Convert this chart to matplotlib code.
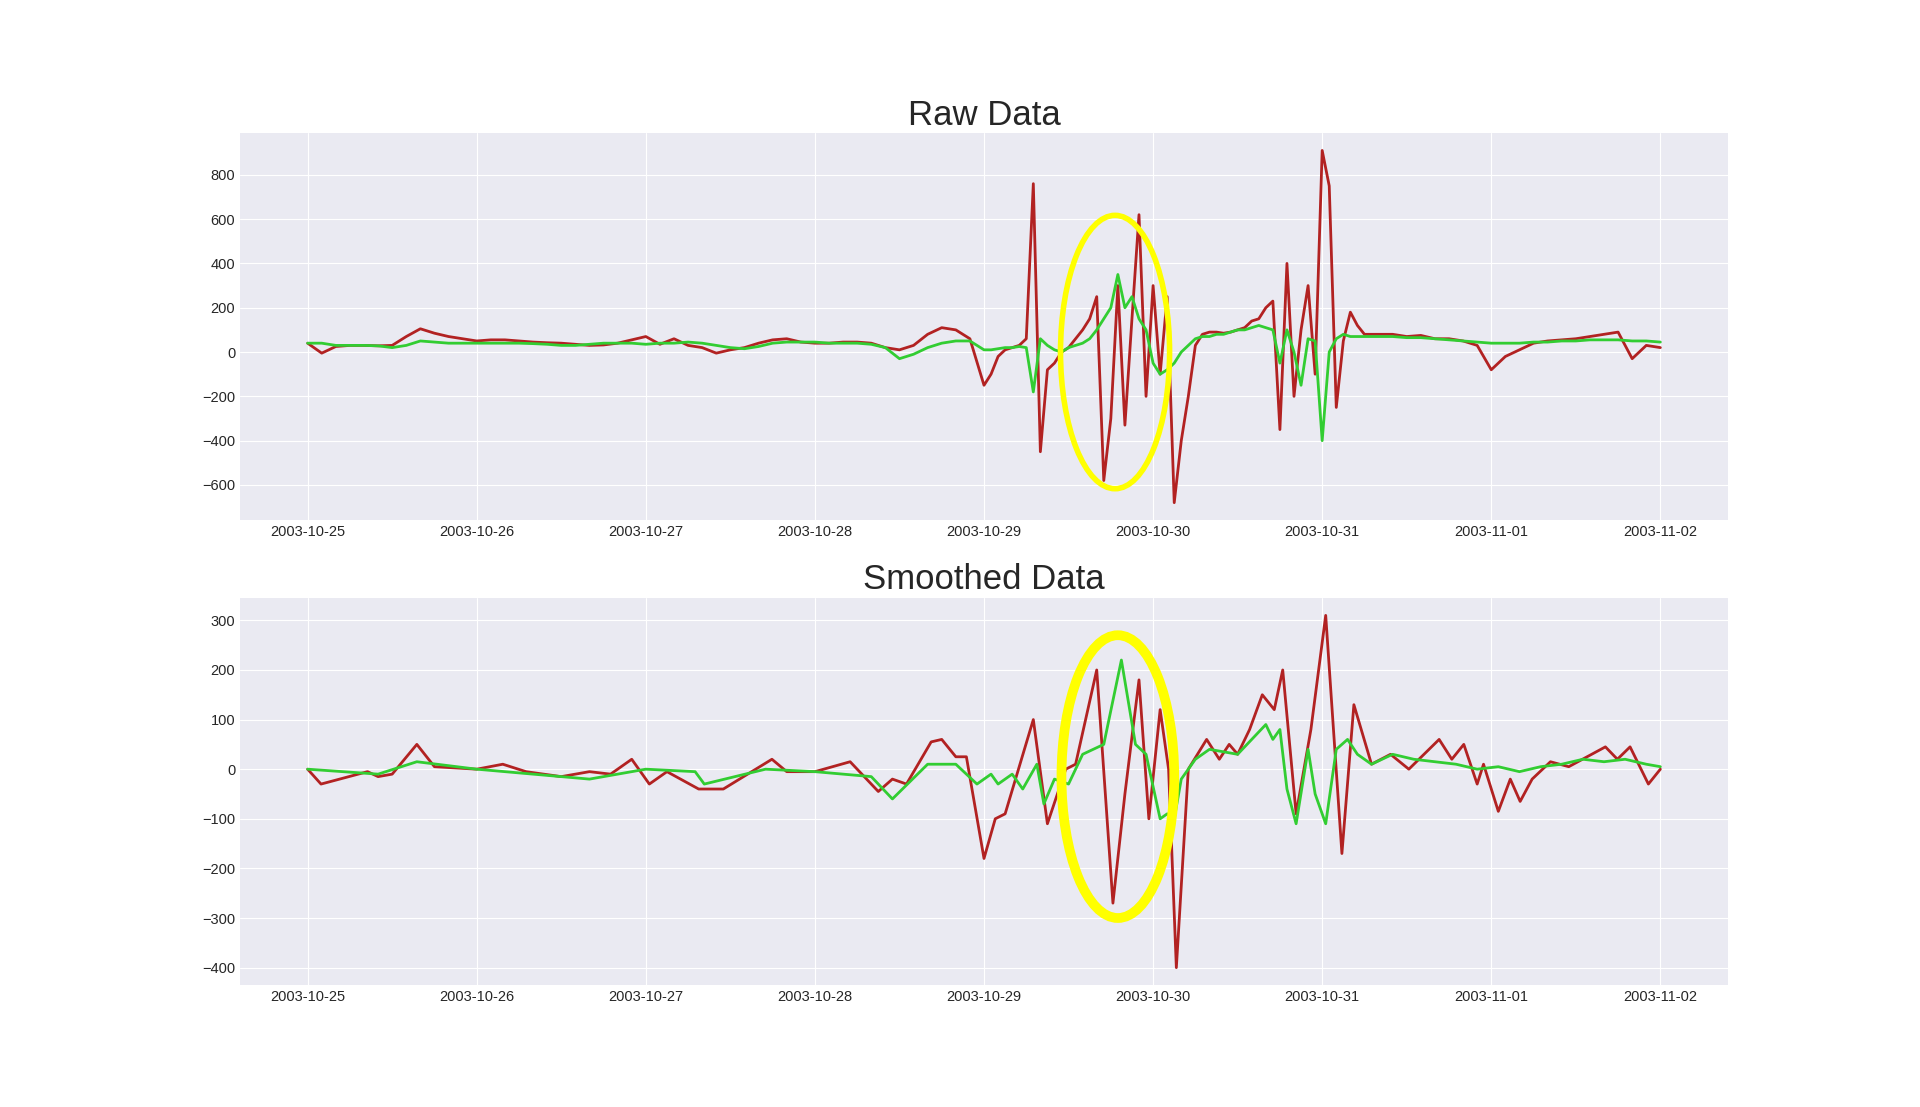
import numpy as np
import matplotlib
matplotlib.use("Agg")
import matplotlib.pyplot as plt
import matplotlib.dates as mdates
from matplotlib.patches import Ellipse

plt.style.use("seaborn-v0_8-darkgrid")

start = np.datetime64("2003-10-25T00:00")
raw_hours = np.concatenate([np.arange(0, 96, 2), np.arange(96, 151, 1), np.arange(152, 193, 2)])

raw_red = [40,-5,25,30,30,28,30,70,105,85,70,60,
           50,55,55,50,45,42,40,35,30,32,40,55,
           70,35,60,30,20,-5,10,20,40,55,60,45,
           40,40,45,45,40,20,10,30,80,110,100,60,
           -150,-100,-20,10,20,30,60,760,-450,-80,-50,0,20,60,100,150,250,-580,-300,300,-330,150,
           620,-200,300,-100,250,-680,-400,-200,30,80,90,90,85,90,100,110,140,150,200,230,-350,400,
           -200,100,300,-100,910,750,-250,50,180,120,80,
           80,80,70,75,60,60,50,30,-80,-20,10,40,50,55,60,70,80,90,-30,30,20]
raw_green = [40,40,30,30,30,28,20,30,50,45,40,40,
             40,40,40,40,38,35,30,30,35,40,40,40,
             35,40,40,45,40,30,20,15,25,40,45,45,
             45,40,40,40,35,20,-30,-10,20,40,50,50,
             10,10,15,20,20,25,20,-180,60,30,10,0,20,30,40,60,100,150,200,350,200,250,150,100,
             -50,-100,-80,-50,0,30,60,70,70,80,80,90,100,100,110,120,110,100,-50,100,0,-150,60,50,
             -400,0,60,80,70,70,70,
             70,70,65,65,60,55,50,45,40,40,40,45,45,50,50,55,55,55,50,50,45]

sm_red_hours = [0,1.9,8.5,10,12,15.5,18,24,27.7,31,36,40,43,46,48.5,51,55.5,59,65.9,68,72,77,81,83,85,88.5,90,92,93.5,96,
                97.6,99,103,105,107.6,109,112,114.3,116,118,119.4,121,122.2,123.3,125,127.6,129.4,130.8,132,133.7,135.5,
                137.2,138.4,140.3,142.4,144.5,146.8,148.5,151,153.7,156.3,160.6,162.4,164.1,166,166.9,169,170.7,172.1,173.8,
                176.4,179,184.2,185.9,187.7,190.3,192]
sm_red = [0,-30,-5,-15,-10,50,5,0,10,-5,-15,-5,-10,20,-30,-5,-40,-40,20,-5,-5,15,-45,-20,-30,55,60,25,25,-180,
          -100,-90,100,-110,0,10,200,-270,-50,180,-100,120,0,-400,0,60,20,50,30,80,150,
          120,200,-90,80,310,-170,130,10,30,0,60,20,50,-30,10,-85,-20,-65,-20,
          15,5,45,20,45,-30,0]
sm_green_hours = [0,10,15.5,24,40,48,55,56.3,65,72,80,83,88,92,95,97,98,100,101.5,103.5,104.5,106,108,110,113,115.5,117.5,
                  119,121,122,123,124,126,128,132,134,136,137,138,139,140.3,142,143,144.5,146,147.6,149,151,154,157,160,
                  163,166,169,172,175,178,181,184,187,190,192]
sm_green = [0,-10,15,0,-20,0,-5,-30,0,-5,-15,-60,10,10,-30,-10,-30,-10,-40,10,-70,-20,-30,30,50,220,50,
            30,-100,-90,-100,-20,20,40,30,60,90,60,80,-40,-110,40,-50,-110,40,60,30,10,30,20,15,
            10,0,5,-5,5,10,20,15,20,10,5]

tick_labels = ["2003-10-25","2003-10-26","2003-10-27","2003-10-28","2003-10-29",
               "2003-10-30","2003-10-31","2003-11-01","2003-11-02"]

def to_dates(h):
    return start + (np.asarray(h) * 3600).astype("timedelta64[s]")

fig, (ax1, ax2) = plt.subplots(2, 1, figsize=(19.2, 11.07), dpi=100,
                               gridspec_kw=dict(hspace=0.2))
fig.subplots_adjust(top=0.88, bottom=0.11)

RED, GREEN = "#b22222", "#32cd32"
ax1.plot(to_dates(raw_hours), raw_red, color=RED, lw=2)
ax1.plot(to_dates(raw_hours), raw_green, color=GREEN, lw=2)
ax2.plot(to_dates(sm_red_hours), sm_red, color=RED, lw=2)
ax2.plot(to_dates(sm_green_hours), sm_green, color=GREEN, lw=2)

ax1.set_title("Raw Data", fontsize=25)
ax2.set_title("Smoothed Data", fontsize=25)

ticks = [mdates.date2num(np.datetime64(t)) for t in tick_labels]
for ax in (ax1, ax2):
    ax.set_xticks(ticks)
    ax.set_xticklabels(tick_labels)
    ax.tick_params(labelsize=10.5)

c1 = mdates.date2num(to_dates([114.6])[0])
ax1.add_patch(Ellipse((c1, 0), 0.645, 1234, fill=False, ec="yellow", lw=4, zorder=5))
c2 = mdates.date2num(to_dates([115.0])[0])
ax2.add_patch(Ellipse((c2, -15), 0.667, 570, fill=False, ec="yellow", lw=7, zorder=5))

fig.savefig("out.png", dpi=100)
